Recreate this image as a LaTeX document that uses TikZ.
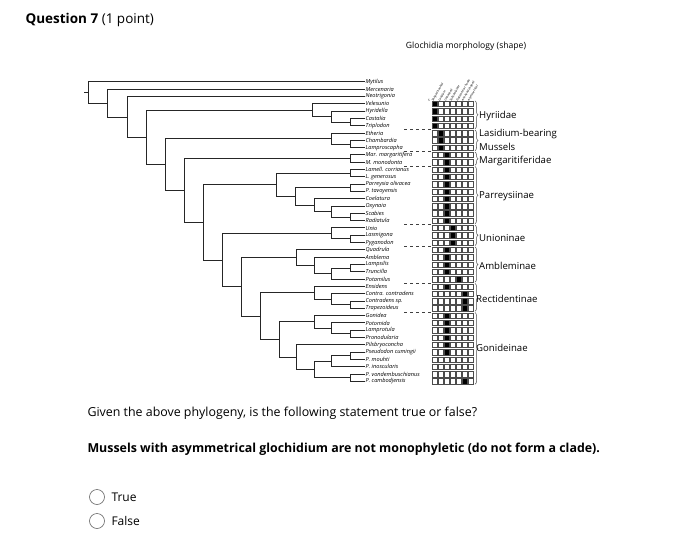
\documentclass[tikz,border=0pt]{standalone}
\usepackage{fontspec}
\setmainfont{Open Sans}
\usetikzlibrary{calc,decorations.pathreplacing}
\newcommand{\clade}[4]{%
  \draw[br] (#3) -- (#2,0 |- #3) -- (#2,0 |- #4) -- (#4);
  \coordinate (#1) at ($(#2,0 |- #3)!0.5!(#2,0 |- #4)$);}
\begin{document}
\begin{tikzpicture}[x=1pt,y=-1pt,
  br/.style={line width=1pt,draw=black!85},
  tx/.style={anchor=west,font=\fontsize{5.6}{6}\selectfont\itshape,inner sep=0.5pt},
  grp/.style={anchor=west,font=\fontsize{9.6}{11}\selectfont,inner sep=0pt},
  hd/.style={anchor=south west,rotate=60,font=\fontsize{3}{4}\selectfont\itshape,inner sep=0pt},
  cell/.style={draw=black!70,line width=0.4pt,fill=white},
  dsh/.style={dashed,line width=0.5pt,draw=black!75},
  brc/.style={decorate,decoration={brace,amplitude=3pt},line width=0.5pt,draw=black!70}]
\useasboundingbox (0,0) rectangle (700,534);
\node[anchor=west,font=\fontsize{13.5}{15}\selectfont\bfseries] (q) at (22,20) {Question 7 {\mdseries(1 point)}};
\node[font=\fontsize{8.6}{10}\selectfont] (title) at (466,46) {Glochidia morphology (shape)};
% tips
\foreach \n [count=\i] in {Mytilus,Mercenaria,Neotrigonia,Velesunio,Hyridella,Castalia,Triplodon,Etheria,Chambardia,Lamproscapha,Mar. margaritifera,M. monodonta,Lamell. corrianus,L. generosus,Parreysia olivacea,P. tavoyensis,Coelatura,Oxynaia,Scabies,Radiatula,Unio,Lasmigona,Pyganodon,Quadrula,Amblema,Lampsilis,Truncilla,Potamilus,Ensidens,Contra. contradens,Contradens sp.,Trapezoideus,Gonidea,Potomida,Lamprotula,Pronodularia,Pilsbryoconcha,Pseudodon cumingii,P. mouhti,P. inoscularis,P. vondembuschianus,P. cambodjensis}{
  \coordinate (t\i) at (365,{82+7.3*(\i-1)});
  \node[tx] (lab\i) at (t\i) {\n};
}
\clade{h4}{350}{t6}{t7}\clade{h3}{331}{t5}{h4}\clade{hyr}{312}{t4}{h3}
\clade{l2}{350}{t9}{t10}\clade{las}{331}{t8}{l2}
\clade{mar}{350}{t11}{t12}
\clade{p1}{350}{t13}{t14}\clade{p2}{350}{t15}{t16}\clade{p5}{350}{t19}{t20}
\clade{p4}{331}{t18}{p5}\clade{p3}{314}{t17}{p4}\clade{p6}{295}{p2}{p3}\clade{par}{276}{p1}{p6}
\clade{u2}{350}{t22}{t23}\clade{uni}{331}{t21}{u2}
\clade{a4}{350}{t26}{t27}\clade{a3}{331}{a4}{t28}\clade{a2}{314}{t25}{a3}\clade{amb}{296}{t24}{a2}
\clade{r3}{350}{t31}{t32}\clade{r2}{331}{t30}{r3}\clade{rec}{314}{t29}{r2}
\clade{g3}{350}{t35}{t36}\clade{g2}{331}{t34}{g3}\clade{g1}{314}{t33}{g2}
\clade{k4}{350}{t38}{t39}\clade{k3}{331}{k4}{t40}\clade{k5}{350}{t41}{t42}
\clade{k2}{314}{k3}{k5}\clade{k1}{296}{t37}{k2}\clade{gon}{279}{g1}{k1}
\clade{n260}{260}{rec}{gon}\clade{n241}{241}{amb}{n260}\clade{n222}{222}{uni}{n241}
\clade{n203}{203}{par}{n222}\clade{n184}{184}{mar}{n203}\clade{n165}{165}{las}{n184}
\clade{n146}{146}{hyr}{n165}\clade{n127}{127}{t3}{n146}\clade{n107}{107}{t2}{n127}
\clade{root}{88}{t1}{n107}
\draw[br] (root) -- ++(-4,0);
% matrix
\foreach \r/\c in {4/1,5/1,6/1,7/1,8/2,9/2,10/2,11/3,12/3,13/3,14/3,15/3,16/3,17/3,18/3,19/3,20/3,21/4,22/4,23/4,24/3,25/3,26/3,27/3,28/5,29/3,30/6,31/6,32/6,33/3,34/3,35/3,36/3,37/3,38/3,39/0,40/0,41/0,42/6}{
  \foreach \k in {1,...,7}{
    \pgfmathsetmacro{\xx}{432+6*(\k-1)}
    \pgfmathsetmacro{\yy}{82+7.3*(\r-1)}
    \ifnum\k=\c
      \path[cell,fill=black] (\xx,\yy-2.7) rectangle ++(5.2,5.4);
    \else
      \path[cell] (\xx,\yy-2.7) rectangle ++(5.2,5.4);
    \fi
  }
}
% headers
\foreach \h [count=\k] in {Shaped hooked,Lasidium,Unhooked,Subspatulate,Flattened w/ hooks,Axe-head shaped,Asymmetrical}{
  \node[hd] (hd\k) at ({434+6*(\k-1)},102) {\h};
}
\node[font=\fontsize{3}{3}\selectfont] (s) at (429,100) {S};
% dashed separators
\foreach \r in {7,10,12,20,23,28,32}{
  \draw[dsh] ({404},{82+7.3*(\r-1)+3.65}) -- ({431},{82+7.3*(\r-1)+3.65});
}
% braces
\foreach \a/\b in {4/7,8/10,11/12,13/20,21/23,24/28,29/32,33/42}{
  \draw[brc] ({475},{82+7.3*(\a-1)-3}) -- ({475},{82+7.3*(\b-1)+3});
}
\node[grp] (g-hyr) at (479,116) {Hyriidae};
\node[grp] (g-las) at (479,134) {Lasidium-bearing};
\node[grp] (g-mus) at (479,147) {Mussels};
\node[grp] (g-mar) at (479,161) {Margaritiferidae};
\node[grp] (g-par) at (479,196) {Parreysiinae};
\node[grp] (g-uni) at (479,238) {Unioninae};
\node[grp] (g-amb) at (479,266) {Ambleminae};
\node[grp] (g-rec) at (476,299) {Rectidentinae};
\node[grp] (g-gon) at (476,348) {Gonideinae};
% question
\node[anchor=west,font=\fontsize{12.4}{14}\selectfont] (q1) at (84,413) {Given the above phylogeny, is the following statement true or false?};
\node[anchor=west,font=\fontsize{12.4}{14}\selectfont\bfseries] (q2) at (84,449) {Mussels with asymmetrical glochidium are not monophyletic (do not form a clade).};
\draw[black!60,line width=0.6pt] (97,497) circle (7.5);
\draw[black!60,line width=0.6pt] (97,521) circle (7.5);
\node[anchor=west,font=\fontsize{12}{14}\selectfont] (tr) at (108,497) {True};
\node[anchor=west,font=\fontsize{12}{14}\selectfont] (fa) at (108,521) {False};
\end{tikzpicture}
\end{document}
